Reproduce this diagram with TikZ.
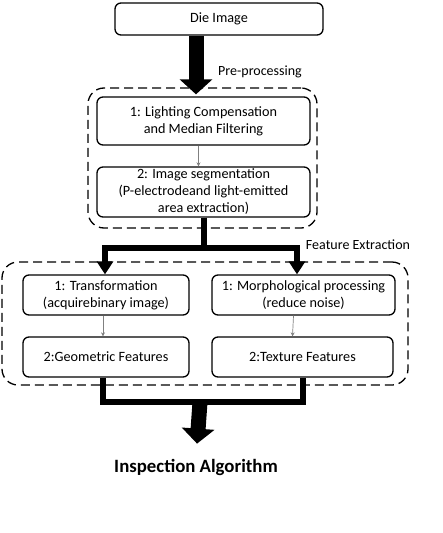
\documentclass[tikz,border=0pt]{standalone}
\usepackage{fontspec}
\setmainfont{Carlito}
\usetikzlibrary{arrows.meta}
\begin{document}
\begin{tikzpicture}[x=1pt,y=-1pt,
  box/.style={draw,line width=1.3pt,rounded corners=6pt,align=center,inner sep=0pt,
    font=\fontsize{14.2}{17}\selectfont},
  group/.style={draw,line width=1.3pt,rounded corners=16pt,dash pattern=on 9pt off 5pt,inner sep=0pt},
  lbl/.style={inner sep=0pt,font=\fontsize{14}{16}\selectfont},
  thinarrow/.style={draw=gray,line width=0.7pt,-{Stealth[length=4pt,width=4pt]}},
  fat/.style={line width=15pt,-{Triangle[width=32pt,length=15pt]}},
  branch/.style={line width=6pt,-{Triangle[width=16pt,length=13pt]}},
  bar/.style={line width=6pt},
]
\useasboundingbox (0,0) rectangle (443,533);

% groups
\node[group,minimum width=229pt,minimum height=140pt] (pre) at (202.5,158) {};
\node[group,minimum width=406pt,minimum height=123pt] (feat) at (205,323.5) {};

% boxes
\node[box,minimum width=208pt,minimum height=32pt] (die) at (219,19) {Die Image};
\node[box,minimum width=213pt,minimum height=48pt] (p1) at (203.5,121)
  {1: Lighting Compensation\\and Median Filtering};
\node[box,minimum width=213pt,minimum height=50pt] (p2) at (203.5,192)
  {2: Image segmentation\\(P-electrodeand light-emitted\\area extraction)};
\node[box,minimum width=166pt,minimum height=40pt] (t1) at (106,295)
  {1: Transformation\\(acquirebinary image)};
\node[box,minimum width=183pt,minimum height=40pt] (m1) at (303.5,295)
  {1: Morphological processing\\(reduce noise)};
\node[box,minimum width=166pt,minimum height=40pt] (g2) at (106,357)
  {2:Geometric Features};
\node[box,minimum width=181pt,minimum height=40pt] (x2) at (302.5,357)
  {2:Texture Features};

% labels
\node[lbl] (prelbl) at (260,72) {Pre-processing};
\node[lbl] (featlbl) at (358,245) {Feature Extraction};
\node[inner sep=0pt,font=\fontsize{18.8}{22}\selectfont\bfseries] (insp) at (196,467) {Inspection Algorithm};

% coordinates
\coordinate (fl) at (105,248);
\coordinate (fr) at (297,248);
\coordinate (join) at (200,402);

% connectors
\draw[fat,shorten >=2pt] ([xshift=-23pt]die.south) -- ([xshift=-7.5pt]p1.north);
\draw[thinarrow] ([xshift=-5pt]p1.south) -- ([xshift=-5pt]p2.north);
\draw[branch] (p2.south) |- (fl) -- (fl |- t1.north);
\draw[branch] (p2.south) |- (fr) -- (fr |- m1.north);
\draw[thinarrow] ([xshift=-3pt]t1.south) -- ([xshift=-3pt]g2.north);
\draw[thinarrow] ([xshift=-10pt]m1.south) -- ([xshift=-10pt]x2.north);
\draw[bar] ([xshift=-3pt]g2.south) |- (join) -| (x2.south);
\draw[fat,shorten >=15pt] (join) -- (insp.north);
\end{tikzpicture}
\end{document}
